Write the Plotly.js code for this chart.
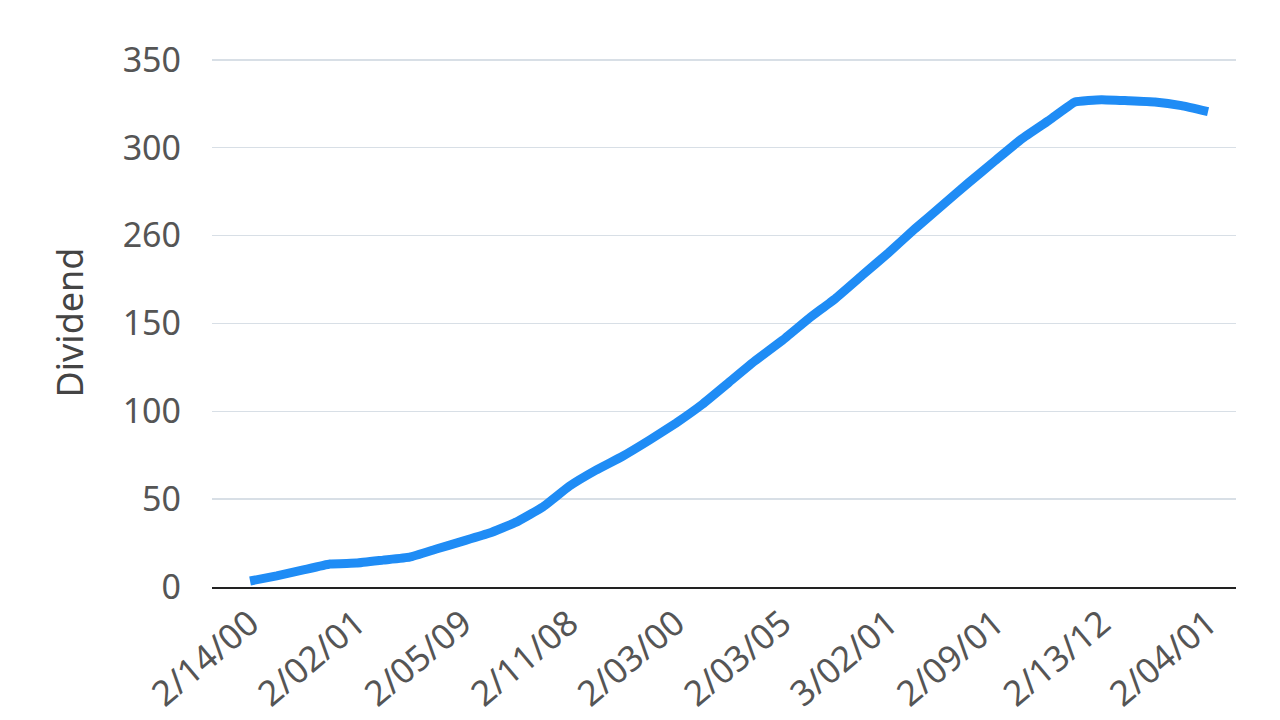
<!DOCTYPE html>
<html>
<head>
<meta charset="utf-8">
<script src="https://cdn.plot.ly/plotly-3.0.1.min.js"></script>
<style>
  html, body { margin: 0; padding: 0; background: #fff; }
  #chart { width: 1280px; height: 720px; }
</style>
</head>
<body>
<div id="chart"></div>
<script>
// dividend readings, four per labelled step
var dividend = [3.4, 6.3, 9.7, 13.1, 13.6, 15.3, 17.0, 21.6, 26.1, 30.7,
  36.9, 45.5, 57.4, 66.5, 74.4, 83.5, 93.2, 104, 116.5, 129,
  140.3, 152.8, 164.2, 177.3, 190.3, 204, 217, 230, 242.6, 255,
  265.3, 276, 277.3, 276.7, 276, 273.9, 270.5];
var dateLabels = ["2/14/00", "2/02/01", "2/05/09", "2/11/08", "2/03/00",
  "2/03/05", "3/02/01", "2/09/01", "2/13/12", "2/04/01"];
var yTickVals = [0, 50, 100, 150, 200, 250, 300];
var yTickText = ["0", "50", "100", "150", "260", "300", "350"];

var step = 4;
var xs = dividend.map(function (v, i) { return i; });
var xTickVals = dateLabels.map(function (d, i) { return i * step; });

var trace = {
  x: xs,
  y: dividend,
  type: "scatter",
  mode: "lines",
  line: { color: "#1f8cf5", width: 9, shape: "spline", smoothing: 0.3 },
  hoverinfo: "y"
};

var layout = {
  width: 1280,
  height: 720,
  margin: { l: 212, r: 44, t: 58, b: 133 },
  paper_bgcolor: "#ffffff",
  plot_bgcolor: "#ffffff",
  showlegend: false,
  font: { family: "Noto Sans, Open Sans, sans-serif", color: "#555555" },
  xaxis: {
    range: [-1.43, 37.05],
    tickvals: xTickVals,
    ticktext: dateLabels,
    tickangle: -40,
    tickfont: { size: 35, color: "#555555" },
    showgrid: false,
    zeroline: false,
    showline: true,
    linecolor: "#222222",
    linewidth: 2,
    ticks: "",
    ticklabelstandoff: 0
  },
  yaxis: {
    range: [0, 301],
    tickvals: yTickVals,
    ticktext: yTickText,
    tickfont: { size: 34, color: "#555555" },
    showgrid: true,
    gridcolor: "#d8dfe6",
    gridwidth: 1.5,
    zeroline: false,
    showline: false,
    ticks: "",
    ticklabelstandoff: 30,
    title: { text: "Dividend", font: { size: 36, color: "#444444" }, standoff: 28 }
  }
};

Plotly.newPlot("chart", [trace], layout, { displayModeBar: false, staticPlot: true });
</script>
</body>
</html>
